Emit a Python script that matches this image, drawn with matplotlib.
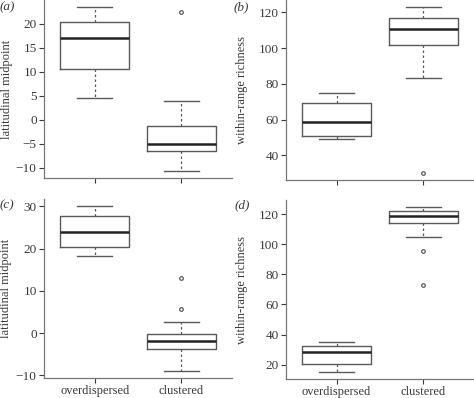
import matplotlib
matplotlib.use("Agg")
import matplotlib.pyplot as plt

plt.rcParams["font.family"] = ["Liberation Serif", "DejaVu Serif"]

groups = ["overdispersed", "clustered"]

# box statistics: (whislo, q1, med, q3, whishi, fliers)
lat_a = [(4.5, 10.6, 17.1, 20.4, 23.6, []),
         (-10.8, -6.5, -5.0, -1.3, 3.8, [22.5])]
rich_b = [(49.0, 51.0, 58.5, 69.3, 75.1, []),
          (83.0, 102.0, 110.8, 117.0, 123.2, [29.9])]
lat_c = [(18.3, 20.4, 23.9, 27.8, 30.2, []),
         (-9.0, -3.8, -1.8, -0.3, 2.6, [13.0, 5.7])]
rich_d = [(14.9, 20.7, 28.4, 32.1, 35.1, []),
          (104.9, 114.0, 118.9, 121.7, 124.9, [95.8, 73.1])]

yticks_lat_a = [-10, -5, 0, 5, 10, 15, 20]
yticks_rich_b = [40, 60, 80, 100, 120]
yticks_lat_c = [-10, 0, 10, 20, 30]
yticks_rich_d = [20, 40, 60, 80, 100, 120]

EDGE = "#5a5a5a"
TEXT = "#3a3a3a"


def to_stats(rows):
    out = []
    for lo, q1, med, q3, hi, fl in rows:
        out.append(dict(whislo=lo, q1=q1, med=med, q3=q3, whishi=hi, fliers=fl))
    return out


def draw(ax, rows, yticks, ylabel, label_x, tag, tag_xy, show_x):
    stats = to_stats(rows)
    ax.bxp(stats, positions=[1, 2], widths=0.8, showcaps=True,
           boxprops=dict(color=EDGE, linewidth=1.0),
           medianprops=dict(color="#222222", linewidth=1.8),
           whiskerprops=dict(color=EDGE, linewidth=0.9, linestyle=(0, (2, 2))),
           capprops=dict(color=EDGE, linewidth=1.0),
           flierprops=dict(marker="o", markersize=2.6, markerfacecolor="white",
                           markeredgecolor=EDGE, markeredgewidth=0.9))
    vals = []
    for r in rows:
        vals += [r[0], r[4]] + list(r[5])
    lo, hi = min(vals), max(vals)
    pad = (hi - lo) * 0.04
    ax.set_ylim(lo - pad, hi + pad)
    ax.set_xlim(0.42, 2.58)
    ax.set_yticks(yticks)
    ax.set_xticks([1, 2])
    if show_x:
        ax.set_xticklabels(groups, fontsize=9, color=TEXT)
    else:
        ax.set_xticklabels(["", ""])
    ax.tick_params(axis="y", labelsize=9.5, colors=TEXT, length=3.5, width=0.8, pad=2)
    ax.tick_params(axis="x", colors=TEXT, length=3.5, width=0.8, pad=1.5)
    for s in ("top", "right"):
        ax.spines[s].set_visible(False)
    for s in ("left", "bottom"):
        ax.spines[s].set_color("#777777")
        ax.spines[s].set_linewidth(0.9)
    ax.set_ylabel(ylabel, fontsize=9, color=TEXT)
    ax.yaxis.set_label_coords(label_x, 0.5)
    fig.text(tag_xy[0], tag_xy[1], tag, fontsize=9.5, color=TEXT,
             style="italic", ha="left", va="center")


fig = plt.figure(figsize=(4.74, 3.98), dpi=100)
ax_a = fig.add_axes([0.0935, 0.5528, 0.3954, 0.4472])
ax_b = fig.add_axes([0.604, 0.5477, 0.395, 0.4523])
ax_c = fig.add_axes([0.0935, 0.051, 0.3954, 0.449])
ax_d = fig.add_axes([0.604, 0.0477, 0.395, 0.4497])

draw(ax_a, lat_a, yticks_lat_a, "latitudinal midpoint", -0.166, "(a)", (-0.002, 0.982), False)
draw(ax_b, rich_b, yticks_rich_b, "within-range richness", -0.206, "(b)", (0.492, 0.982), False)
draw(ax_c, lat_c, yticks_lat_c, "latitudinal midpoint", -0.17, "(c)", (-0.002, 0.485), True)
draw(ax_d, rich_d, yticks_rich_d, "within-range richness", -0.203, "(d)", (0.495, 0.485), True)

fig.savefig("out.png", dpi=100)
